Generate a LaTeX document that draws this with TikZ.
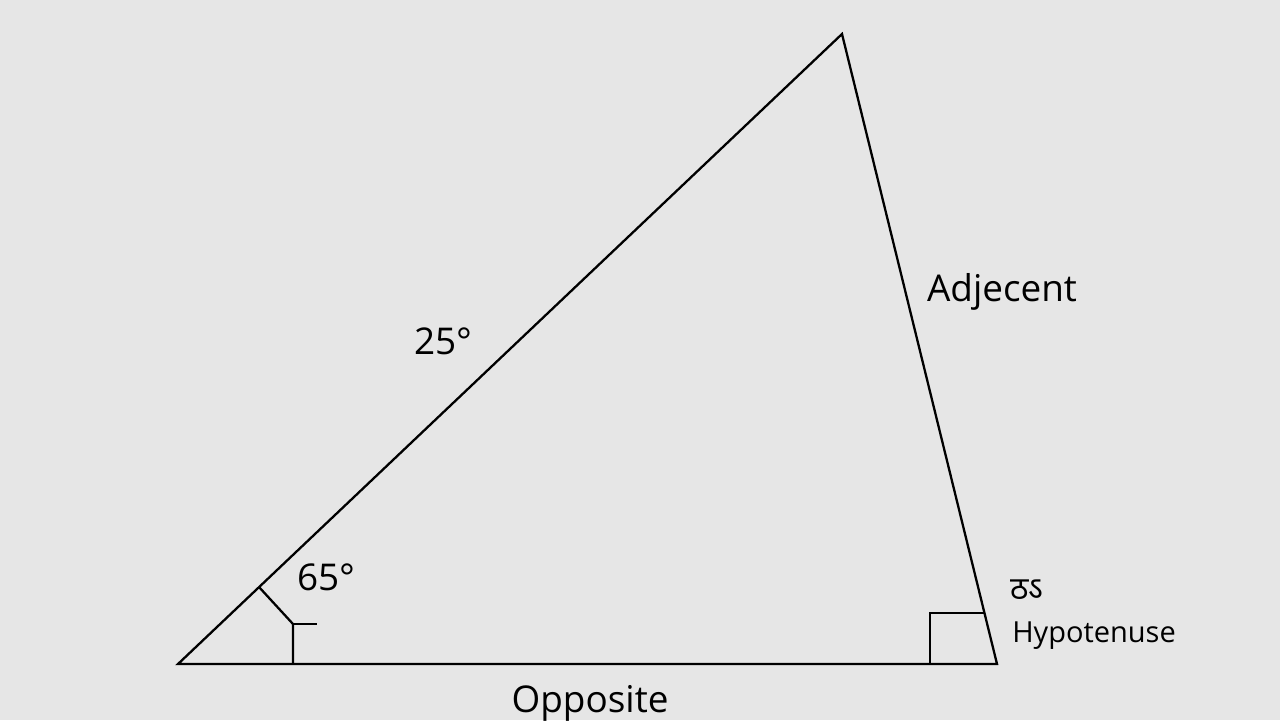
\documentclass[tikz,border=0pt]{standalone}
\usepackage{fontspec}
\setmainfont{Open Sans}
\newfontfamily\devafont[Script=Devanagari]{Noto Sans}
\definecolor{paper}{HTML}{E6E6E6}

\begin{document}
\begin{tikzpicture}[x = 0.02cm, y = -0.02cm, line width = 1.3pt,
	lbl/.style = {font = \fontsize{21}{24}\selectfont, inner sep = 0pt}]

	% Background

	\fill [paper] (0, 0) rectangle (1280, 720);
	\useasboundingbox (0, 0) rectangle (1280, 720);

	% Triangle

	\coordinate (left) at (178, 664);
	\coordinate (top) at (842, 34);
	\coordinate (right) at (997, 664);
	\draw [line join = miter] (left) -- (top) -- (right) -- cycle;

	% Angle marks

	\draw (259, 587) -- (293, 624) -- (293, 664);
	\draw (293, 624) -- (317, 624);
	\draw (930, 664) -- (930, 613) -- (985, 613);

	% Labels

	\node [lbl] (angtop) at (443, 341) {25°};
	\node [lbl] (angleft) at (326, 577) {65°};
	\node [lbl] (adj) at (1002, 292) {Adjecent};
	\node [lbl] (opp) at (590, 703) {Opposite};
	\node [inner sep = 0pt, font = \devafont\fontsize{18}{20}\selectfont] (angright) at (1027, 590) {ठऽ};
	\node [inner sep = 0pt, font = \fontsize{16.5}{18}\selectfont] (hyp) at (1094, 636) {Hypotenuse};

\end{tikzpicture}
\end{document}
